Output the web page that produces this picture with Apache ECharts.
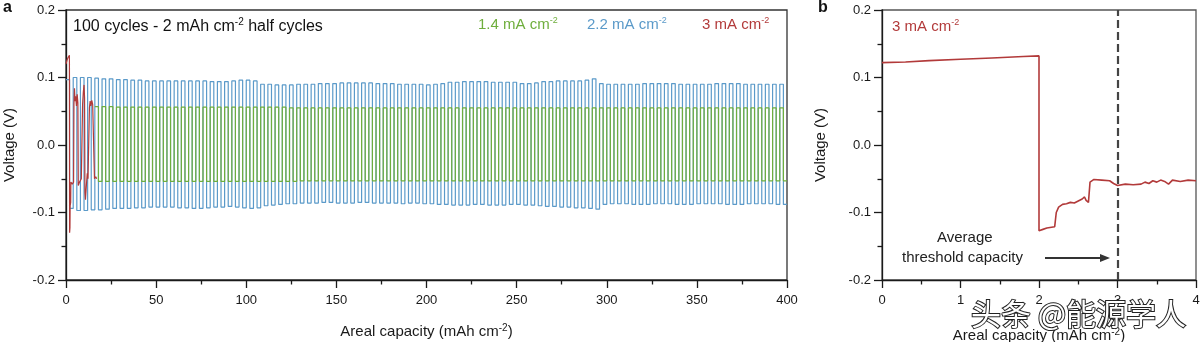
<!DOCTYPE html>
<html><head><meta charset="utf-8">
<script src="https://cdn.jsdelivr.net/npm/echarts@6/dist/echarts.min.js"></script>
<style>html,body{margin:0;padding:0;background:#fff}#c{width:1200px;height:342px}</style>
</head><body><div id="c"></div>
<script>
// ---------- DATA ----------
const HALF_CYCLE = 2;              // mAh cm-2 per half cycle
const CYCLE = 2 * HALF_CYCLE;      // mAh cm-2 per full cycle
const yTicks = [-0.2, -0.1, 0.0, 0.1, 0.2];
const xTicksA = [0, 50, 100, 150, 200, 250, 300, 350, 400];
const xTicksB = [0, 1, 2, 3, 4];

// 2.2 mA cm-2: plateau voltage of each of 100 cycles (charge / discharge)
const blueTop = [
  0.097,0.100,0.100,0.100,0.099,
  0.098,0.098,0.097,0.097,0.096,0.096,0.095,0.095,
  0.095,0.095,0.095,0.095,0.095,0.095,0.095,0.094,
  0.094,0.094,0.095,0.096,0.096,0.095,
  0.090,0.090,0.089,0.089,0.089,0.090,0.090,0.090,0.091,
  0.091,0.091,0.092,0.092,0.092,0.092,0.092,0.091,0.091,0.091,0.090,0.090,0.090,
  0.090,0.089,0.090,0.091,
  0.093,0.093,0.094,0.094,0.094,0.094,0.093,0.093,0.093,0.093,
  0.091,0.091,0.092,
  0.094,0.094,0.095,0.095,0.095,0.095,0.096,0.098,
  0.091,0.090,0.090,0.090,0.090,0.090,0.091,0.091,0.091,0.091,0.091,0.090,0.090,
  0.090,0.090,0.090,0.091,0.091,0.091,0.091,0.090,0.090,0.090,0.090,0.090,0.090
];
const blueBottom = [
  -0.094,-0.097,-0.097,-0.096,-0.096,
  -0.095,-0.094,-0.094,-0.094,-0.093,-0.093,-0.092,-0.092,
  -0.092,-0.092,-0.093,-0.093,-0.094,-0.094,-0.093,
  -0.092,-0.092,-0.091,-0.092,-0.093,-0.094,-0.093,
  -0.090,-0.089,-0.088,-0.087,-0.087,-0.086,
  -0.086,-0.086,-0.085,-0.085,-0.086,-0.086,-0.086,-0.085,-0.085,-0.086,-0.086,-0.086,-0.086,-0.087,-0.086,-0.086,-0.087,-0.087,
  -0.088,-0.088,-0.089,-0.089,-0.089,-0.088,-0.088,-0.089,-0.089,-0.089,-0.088,-0.088,-0.089,
  -0.089,-0.090,-0.091,-0.091,-0.092,-0.092,-0.093,-0.093,-0.094,-0.095,
  -0.088,-0.087,-0.087,-0.087,-0.088,-0.088,-0.088,-0.087,-0.087,-0.087,-0.088,-0.088,-0.088,
  -0.087,-0.087,-0.087,-0.087,-0.088,-0.088,-0.088,-0.087,-0.087,-0.087,-0.087,-0.088,-0.088
];

// 1.4 mA cm-2: cycles 5..100 (starts at cycle index 4)
const greenFirstCycle = 4;
const greenTop = [
  0.057,0.057,0.057,0.056,0.056,0.056,0.056,0.056,0.056,0.056,0.056,0.056,0.056,0.056,0.056,0.056,
  0.056,0.056,0.056,0.056,0.056,0.056,0.056,0.056,0.056,0.056,0.056,0.055,0.055,0.055,0.055,0.055,
  0.055,0.055,0.055,0.055,0.055,0.055,0.055,0.055,0.055,0.055,0.055,0.055,0.055,0.055,0.055,0.055,
  0.055,0.055,0.055,0.055,0.055,0.055,0.055,0.055,0.055,0.055,0.055,0.055,0.055,0.055,0.055,0.055,
  0.055,0.055,0.055,0.055,0.055,0.055,0.055,0.055,0.055,0.055,0.055,0.055,0.055,0.055,0.055,0.055,
  0.055,0.055,0.055,0.055,0.055,0.055,0.055,0.055,0.055,0.055,0.055,0.055,0.055,0.055,0.055,0.055
];
const greenBottom = [
  -0.054,-0.054,-0.054,-0.054,-0.054,-0.054,-0.054,-0.054,-0.054,-0.054,-0.054,-0.054,-0.054,-0.054,-0.054,-0.054,
  -0.054,-0.054,-0.054,-0.054,-0.054,-0.054,-0.054,-0.054,-0.054,-0.054,-0.054,-0.054,-0.053,-0.053,-0.053,-0.053,
  -0.053,-0.053,-0.053,-0.053,-0.053,-0.053,-0.053,-0.053,-0.053,-0.053,-0.053,-0.053,-0.053,-0.053,-0.053,-0.053,
  -0.053,-0.053,-0.053,-0.053,-0.053,-0.053,-0.053,-0.053,-0.053,-0.053,-0.053,-0.053,-0.053,-0.053,-0.053,-0.053,
  -0.053,-0.053,-0.053,-0.053,-0.053,-0.053,-0.053,-0.053,-0.053,-0.053,-0.053,-0.053,-0.053,-0.053,-0.053,-0.053,
  -0.053,-0.053,-0.053,-0.053,-0.053,-0.053,-0.053,-0.053,-0.053,-0.053,-0.053,-0.053,-0.053,-0.053,-0.053,-0.053
];

// 3 mA cm-2 in panel a (capacity, voltage)
const redA = [
  [0,0.120],[0.6,0.126],[1.2,0.130],[1.9,0.133],[2.0,0.133],[2.0,-0.130],[2.2,-0.122],[2.3,-0.090],
  [2.6,-0.085],[2.7,-0.055],[3.5,-0.058],[4.2,-0.055],[4.4,0.060],[4.7,0.084],[5.0,0.065],[5.4,0.072],
  [5.8,0.058],[6.2,0.075],[6.6,0.062],[6.8,-0.060],[7.5,-0.055],[8.5,-0.050],[9.0,-0.052],[9.2,0.060],
  [9.6,0.078],[10.0,0.089],[10.3,0.070],[10.5,-0.070],[10.8,-0.081],[11.3,-0.060],[11.8,-0.042],
  [12.2,-0.050],[12.8,-0.048],[13.0,0.055],[13.4,0.065],[13.8,0.058],[14.3,0.066],[14.8,0.060],
  [15.4,0.062],[15.7,0.058],[15.8,-0.050],[16.5,-0.047],[17.0,-0.050]
];

// 3 mA cm-2 first cycle in panel b
const redB = [
  [0,0.122],[0.3,0.123],[0.6,0.125],[1.0,0.127],[1.4,0.129],[1.8,0.131],[2.0,0.132],[2.0,-0.127],
  [2.05,-0.125],[2.1,-0.123],[2.2,-0.121],[2.22,-0.100],[2.25,-0.092],[2.3,-0.088],[2.35,-0.087],
  [2.4,-0.085],[2.45,-0.086],[2.5,-0.083],[2.55,-0.080],[2.58,-0.077],[2.6,-0.082],[2.63,-0.085],
  [2.65,-0.055],[2.7,-0.051],[2.8,-0.052],[2.9,-0.053],[2.95,-0.057],[3.0,-0.060],[3.1,-0.058],
  [3.2,-0.059],[3.3,-0.058],[3.35,-0.055],[3.4,-0.057],[3.45,-0.053],[3.5,-0.055],[3.55,-0.052],
  [3.6,-0.054],[3.65,-0.058],[3.7,-0.052],[3.8,-0.054],[3.9,-0.052],[4.0,-0.053]
];
const thresholdCapacity = 3;

// ---------- BUILD ----------
function squareWave(firstCycle, tops, bottoms) {
  const pts = [];
  for (let k = 0; k < tops.length; k++) {
    const x0 = (firstCycle + k) * CYCLE;
    pts.push([x0, tops[k]], [x0 + HALF_CYCLE, tops[k]], [x0 + HALF_CYCLE, bottoms[k]], [x0 + CYCLE, bottoms[k]]);
  }
  return pts;
}
const FONT = 'Liberation Sans, Arial, sans-serif';
const TXT = '#1a1a1a';
const BLUE = '#5b9ac9', GREEN = '#6fae3d', RED = '#b23a3a';

function xAxisCfg(gi, ticks, gap) {
  return {
    gridIndex: gi, type: 'value', min: ticks[0], max: ticks[ticks.length - 1], interval: ticks[1] - ticks[0],
    axisLine: {show: true, onZero: false, lineStyle: {color: TXT, width: 1.3}},
    axisTick: {show: true, length: 8, lineStyle: {color: TXT, width: 1.3}},
    minorTick: {show: true, splitNumber: 2, length: 4.5, lineStyle: {color: TXT, width: 1.3}},
    splitLine: {show: false},
    axisLabel: {fontSize: 13, color: TXT, fontFamily: FONT, margin: 14, showMinLabel: true, showMaxLabel: true},
    name: '{t|Areal capacity (mAh cm}{s|-2}{t|)}', nameLocation: 'middle', nameGap: gap,
    nameTextStyle: {rich: {t: {fontSize: 15, color: TXT, fontFamily: FONT, lineHeight: 18},
                           s: {fontSize: 10, color: TXT, fontFamily: FONT, verticalAlign: 'top', lineHeight: 10}}}
  };
}
function yAxisCfg(gi, gap) {
  return {
    gridIndex: gi, type: 'value', min: yTicks[0], max: yTicks[yTicks.length - 1], interval: 0.1,
    axisLine: {show: true, onZero: false, lineStyle: {color: TXT, width: 1.3}},
    axisTick: {show: true, length: 8, lineStyle: {color: TXT, width: 1.3}},
    minorTick: {show: true, splitNumber: 2, length: 4.5, lineStyle: {color: TXT, width: 1.3}},
    splitLine: {show: false},
    axisLabel: {fontSize: 13, color: TXT, fontFamily: FONT, margin: 11, formatter: v => v.toFixed(1)},
    name: 'Voltage (V)', nameLocation: 'middle', nameGap: gap,
    nameTextStyle: {fontSize: 15, color: TXT, fontFamily: FONT}
  };
}
function rt(x, y, parts, color, size) {
  const rich = {t: {fontSize: size, fill: color, fontFamily: FONT, lineHeight: size + 3},
                s: {fontSize: Math.round(size * 0.62), fill: color, fontFamily: FONT, verticalAlign: 'top', lineHeight: 10}};
  return {type: 'text', left: x, top: y, z: 100, style: {text: parts, rich: rich, fill: color, font: size + 'px ' + FONT}};
}

const chart = echarts.init(document.getElementById('c'), null, {renderer: 'canvas'});
chart.setOption({
  animation: false,
  backgroundColor: '#fff',
  grid: [
    {left: 66, right: 413, top: 10, bottom: 62, show: true, borderColor: '#333', borderWidth: 1.3, backgroundColor: 'transparent', outerBoundsMode: 'none', containLabel: false},
    {left: 882, right: 4, top: 10, bottom: 62, show: true, borderColor: '#555', borderWidth: 1.3, backgroundColor: 'transparent', outerBoundsMode: 'none', containLabel: false}
  ],
  xAxis: [xAxisCfg(0, xTicksA, 43), xAxisCfg(1, xTicksB, 47)],
  yAxis: [yAxisCfg(0, 49), yAxisCfg(1, 54)],
  series: [
    {type: 'line', xAxisIndex: 0, yAxisIndex: 0, data: squareWave(0, blueTop, blueBottom), showSymbol: false, symbol: 'none',
     lineStyle: {color: BLUE, width: 1.2}, clip: true},
    {type: 'line', xAxisIndex: 0, yAxisIndex: 0, data: squareWave(greenFirstCycle, greenTop, greenBottom), showSymbol: false, symbol: 'none',
     lineStyle: {color: GREEN, width: 1.2}, clip: true},
    {type: 'line', xAxisIndex: 0, yAxisIndex: 0, data: redA, showSymbol: false, symbol: 'none',
     lineStyle: {color: RED, width: 1.2}, clip: true},
    {type: 'line', xAxisIndex: 1, yAxisIndex: 1, data: redB, showSymbol: false, symbol: 'none',
     lineStyle: {color: RED, width: 1.6}, clip: true,
     markLine: {silent: true, symbol: ['none', 'none'], label: {show: false},
       lineStyle: {color: '#444', width: 2.2, type: [8, 4]},
       data: [{xAxis: thresholdCapacity}]}}
  ],
  graphic: [
    {type: 'text', left: 3, top: 0, style: {text: 'a', font: 'bold 16px ' + FONT, fill: '#111'}},
    {type: 'text', left: 818, top: 0, style: {text: 'b', font: 'bold 16px ' + FONT, fill: '#111'}},
    rt(73, 17, '{t|100 cycles - 2 mAh cm}{s|-2}{t| half cycles}', '#111', 16),
    rt(478, 16, '{t|1.4 mA cm}{s|-2}', GREEN, 15),
    rt(587, 16, '{t|2.2 mA cm}{s|-2}', BLUE, 15),
    rt(702, 16, '{t|3 mA cm}{s|-2}', RED, 15),
    rt(892, 18, '{t|3 mA cm}{s|-2}', RED, 15),
    {type: 'text', left: 937, top: 230, style: {text: 'Average', font: '15px ' + FONT, fill: '#222'}},
    {type: 'text', left: 902, top: 250, style: {text: 'threshold capacity', font: '15px ' + FONT, fill: '#222'}},
    {type: 'line', shape: {x1: 1045, y1: 258, x2: 1102, y2: 258}, style: {stroke: '#333', lineWidth: 2}},
    {type: 'polygon', shape: {points: [[1110, 258], [1100, 254], [1100, 262]]}, style: {fill: '#333'}},
    {type: 'text', left: 970, top: 298, z: 200,
     style: {text: '头条 @能源学人', font: '30px "Noto Sans CJK SC"', fill: '#ffffff', stroke: '#222', lineWidth: 2}}
  ]
});
</script>
</body></html>
